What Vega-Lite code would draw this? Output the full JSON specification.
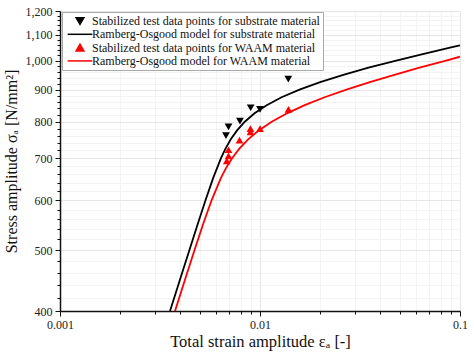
{
  "$schema": "https://vega.github.io/schema/vega-lite/v6.json",
  "width": 400,
  "height": 300,
  "autosize": {"type": "none"},
  "padding": {"left": 60, "top": 11, "right": 14, "bottom": 43},
  "background": "white",
  "config": {
    "view": {"stroke": null},
    "font": "Liberation Serif",
    "axis": {
      "labelFont": "Liberation Serif",
      "titleFont": "Liberation Serif",
      "labelColor": "#222",
      "titleColor": "#111",
      "titleFontWeight": "normal",
      "tickColor": "#111",
      "domainColor": "#111"
    }
  },
  "datasets": {
    "curves": [
      {"series": "Ramberg-Osgood model for substrate material", "strain": 0.003549, "stress": 400},
      {"series": "Ramberg-Osgood model for substrate material", "strain": 0.003993, "stress": 450},
      {"series": "Ramberg-Osgood model for substrate material", "strain": 0.004438, "stress": 500},
      {"series": "Ramberg-Osgood model for substrate material", "strain": 0.004884, "stress": 550},
      {"series": "Ramberg-Osgood model for substrate material", "strain": 0.00534, "stress": 600},
      {"series": "Ramberg-Osgood model for substrate material", "strain": 0.005823, "stress": 650},
      {"series": "Ramberg-Osgood model for substrate material", "strain": 0.006381, "stress": 700},
      {"series": "Ramberg-Osgood model for substrate material", "strain": 0.006724, "stress": 725},
      {"series": "Ramberg-Osgood model for substrate material", "strain": 0.007142, "stress": 750},
      {"series": "Ramberg-Osgood model for substrate material", "strain": 0.007679, "stress": 775},
      {"series": "Ramberg-Osgood model for substrate material", "strain": 0.008394, "stress": 800},
      {"series": "Ramberg-Osgood model for substrate material", "strain": 0.00939, "stress": 825},
      {"series": "Ramberg-Osgood model for substrate material", "strain": 0.0108, "stress": 850},
      {"series": "Ramberg-Osgood model for substrate material", "strain": 0.01282, "stress": 875},
      {"series": "Ramberg-Osgood model for substrate material", "strain": 0.01576, "stress": 900},
      {"series": "Ramberg-Osgood model for substrate material", "strain": 0.01999, "stress": 925},
      {"series": "Ramberg-Osgood model for substrate material", "strain": 0.02611, "stress": 950},
      {"series": "Ramberg-Osgood model for substrate material", "strain": 0.03487, "stress": 975},
      {"series": "Ramberg-Osgood model for substrate material", "strain": 0.04744, "stress": 1000},
      {"series": "Ramberg-Osgood model for substrate material", "strain": 0.06513, "stress": 1025},
      {"series": "Ramberg-Osgood model for substrate material", "strain": 0.09017, "stress": 1050},
      {"series": "Ramberg-Osgood model for substrate material", "strain": 0.1, "stress": 1058},
      {"series": "Ramberg-Osgood model for WAAM material", "strain": 0.003759, "stress": 400},
      {"series": "Ramberg-Osgood model for WAAM material", "strain": 0.004231, "stress": 450},
      {"series": "Ramberg-Osgood model for WAAM material", "strain": 0.004707, "stress": 500},
      {"series": "Ramberg-Osgood model for WAAM material", "strain": 0.005197, "stress": 550},
      {"series": "Ramberg-Osgood model for WAAM material", "strain": 0.005727, "stress": 600},
      {"series": "Ramberg-Osgood model for WAAM material", "strain": 0.006362, "stress": 650},
      {"series": "Ramberg-Osgood model for WAAM material", "strain": 0.00676, "stress": 675},
      {"series": "Ramberg-Osgood model for WAAM material", "strain": 0.007252, "stress": 700},
      {"series": "Ramberg-Osgood model for WAAM material", "strain": 0.007884, "stress": 725},
      {"series": "Ramberg-Osgood model for WAAM material", "strain": 0.008723, "stress": 750},
      {"series": "Ramberg-Osgood model for WAAM material", "strain": 0.009864, "stress": 775},
      {"series": "Ramberg-Osgood model for WAAM material", "strain": 0.01144, "stress": 800},
      {"series": "Ramberg-Osgood model for WAAM material", "strain": 0.01365, "stress": 825},
      {"series": "Ramberg-Osgood model for WAAM material", "strain": 0.01673, "stress": 850},
      {"series": "Ramberg-Osgood model for WAAM material", "strain": 0.02104, "stress": 875},
      {"series": "Ramberg-Osgood model for WAAM material", "strain": 0.02707, "stress": 900},
      {"series": "Ramberg-Osgood model for WAAM material", "strain": 0.03541, "stress": 925},
      {"series": "Ramberg-Osgood model for WAAM material", "strain": 0.04697, "stress": 950},
      {"series": "Ramberg-Osgood model for WAAM material", "strain": 0.06272, "stress": 975},
      {"series": "Ramberg-Osgood model for WAAM material", "strain": 0.08427, "stress": 1000},
      {"series": "Ramberg-Osgood model for WAAM material", "strain": 0.1, "stress": 1015}
    ],
    "pts": [
      {"series": "Stabilized test data points for substrate material", "strain": 0.00676, "stress": 760},
      {"series": "Stabilized test data points for substrate material", "strain": 0.00696, "stress": 785},
      {"series": "Stabilized test data points for substrate material", "strain": 0.00794, "stress": 802},
      {"series": "Stabilized test data points for substrate material", "strain": 0.00898, "stress": 842},
      {"series": "Stabilized test data points for substrate material", "strain": 0.0100, "stress": 837},
      {"series": "Stabilized test data points for substrate material", "strain": 0.01385, "stress": 935},
      {"series": "Stabilized test data points for WAAM material", "strain": 0.00682, "stress": 693},
      {"series": "Stabilized test data points for WAAM material", "strain": 0.00696, "stress": 706},
      {"series": "Stabilized test data points for WAAM material", "strain": 0.00696, "stress": 722},
      {"series": "Stabilized test data points for WAAM material", "strain": 0.0079, "stress": 748},
      {"series": "Stabilized test data points for WAAM material", "strain": 0.00896, "stress": 780},
      {"series": "Stabilized test data points for WAAM material", "strain": 0.00896, "stress": 771},
      {"series": "Stabilized test data points for WAAM material", "strain": 0.0100, "stress": 780},
      {"series": "Stabilized test data points for WAAM material", "strain": 0.01388, "stress": 837}
    ]
  },
  "layer": [
    {
      "data": {"name": "curves"},
      "mark": {"type": "line", "strokeWidth": 1.8, "clip": true},
      "encoding": {
        "x": {
          "field": "strain", "type": "quantitative",
          "scale": {"type": "log", "domain": [0.001, 0.1], "nice": false},
          "axis": {
            "orient": "bottom",
            "values": [0.001, 0.01, 0.1],
            "format": ".3~f",
            "title": "Total strain amplitude εₐ [-]",
            "titleFontSize": 16.5,
            "titlePadding": 3,
            "labelFontSize": 12,
            "labelPadding": 3,
            "tickSize": 5,
            "domainWidth": 1.5,
            "grid": true,
            "gridColor": "#e6e6e6",
            "labelFlush": false
          }
        },
        "y": {
          "field": "stress", "type": "quantitative",
          "scale": {"type": "log", "domain": [400, 1200], "nice": false},
          "axis": {
            "orient": "left",
            "values": [400, 500, 600, 700, 800, 900, 1000, 1100, 1200],
            "format": ",",
            "title": "Stress amplitude σₐ [N/mm²]",
            "titleFontSize": 16,
            "titlePadding": 6,
            "labelFontSize": 12,
            "labelPadding": 3,
            "tickSize": 5,
            "domainWidth": 1.5,
            "grid": true,
            "gridColor": "#e6e6e6",
            "labelFlush": false
          }
        },
        "color": {
          "field": "series", "type": "nominal",
          "scale": {
            "domain": [
              "Stabilized test data points for substrate material",
              "Ramberg-Osgood model for substrate material",
              "Stabilized test data points for WAAM material",
              "Ramberg-Osgood model for WAAM material"
            ],
            "range": ["#000000", "#000000", "#ff0000", "#ff0000"]
          },
          "legend": {
            "title": null,
            "orient": "none",
            "legendX": 2,
            "legendY": 1,
            "fillColor": "white",
            "strokeColor": "#aaaaaa",
            "padding": 3,
            "labelFont": "Liberation Serif",
            "labelFontSize": 12,
            "labelColor": "#111",
            "labelLimit": 400,
            "symbolSize": 60,
            "symbolOffset": 9,
            "labelOffset": 6,
            "rowPadding": 0.3
          }
        }
      }
    },
    {
      "data": {"name": "pts"},
      "mark": {"type": "point", "filled": true, "size": 60, "opacity": 1, "clip": true},
      "encoding": {
        "x": {
          "field": "strain", "type": "quantitative",
          "axis": {
            "orient": "bottom",
            "values": [0.002, 0.003, 0.004, 0.005, 0.006, 0.007, 0.008, 0.009, 0.02, 0.03, 0.04, 0.05, 0.06, 0.07, 0.08, 0.09],
            "title": null,
            "labels": false,
            "domain": false,
            "tickSize": 3,
            "grid": true,
            "gridColor": "#f3f3f3"
          }
        },
        "y": {
          "field": "stress", "type": "quantitative",
          "axis": {
            "orient": "left",
            "values": [420, 440, 460, 480, 520, 540, 560, 580, 620, 640, 660, 680, 720, 740, 760, 780, 820, 840, 860, 880, 920, 940, 960, 980, 1020, 1040, 1060, 1080, 1120, 1140, 1160, 1180],
            "title": null,
            "labels": false,
            "domain": false,
            "tickSize": 3,
            "grid": true,
            "gridColor": "#f3f3f3"
          }
        },
        "color": {"field": "series", "type": "nominal"},
        "shape": {
          "field": "series", "type": "nominal",
          "scale": {
            "domain": [
              "Stabilized test data points for substrate material",
              "Ramberg-Osgood model for substrate material",
              "Stabilized test data points for WAAM material",
              "Ramberg-Osgood model for WAAM material"
            ],
            "range": ["triangle-down", "M-3.2,0H3.2", "triangle-up", "M-3.2,0H3.2"]
          },
          "legend": null
        }
      }
    }
  ],
  "resolve": {"axis": {"x": "independent", "y": "independent"}}
}
